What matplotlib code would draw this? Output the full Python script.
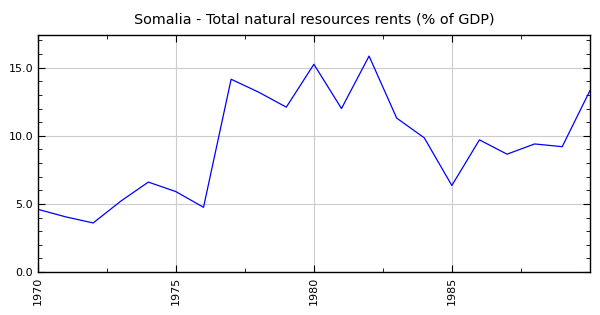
import matplotlib
matplotlib.use("Agg")
import matplotlib.pyplot as plt
from matplotlib.ticker import MultipleLocator

years = list(range(1970, 1991))
rents = [4.6, 4.05, 3.6, 5.2, 6.6, 5.9, 4.75, 14.15, 13.2, 12.1, 15.25,
         12.0, 15.85, 11.3, 9.85, 6.35, 9.7, 8.65, 9.4, 9.2, 13.3]

fig = plt.figure(figsize=(6, 3.15), dpi=100)
ax = fig.add_axes([0.0633, 0.1365, 0.9197, 0.7525])
ax.plot(years, rents, color="#0000ff", lw=0.9)
ax.set_xlim(1970, 1990)
ax.set_ylim(0, 17.4)
ax.xaxis.set_major_locator(MultipleLocator(5))
ax.xaxis.set_minor_locator(MultipleLocator(2.5))
ax.yaxis.set_major_locator(MultipleLocator(5))
ax.yaxis.set_minor_locator(MultipleLocator(1))
ax.set_xticks([1970, 1975, 1980, 1985])
ax.yaxis.set_major_formatter(plt.FormatStrFormatter("%.1f"))
ax.grid(True, which="major", color="#cccccc", lw=0.8)
ax.tick_params(which="both", direction="in", top=True, right=True, labelsize=8)
ax.tick_params(which="major", length=5)
ax.tick_params(which="minor", length=3)
ax.tick_params(axis="x", labelrotation=90)
for s in ax.spines.values():
    s.set_linewidth(1.0)
ax.set_title("Somalia - Total natural resources rents (% of GDP)", fontsize=10.4, pad=8)
fig.savefig("out.png", dpi=100)
